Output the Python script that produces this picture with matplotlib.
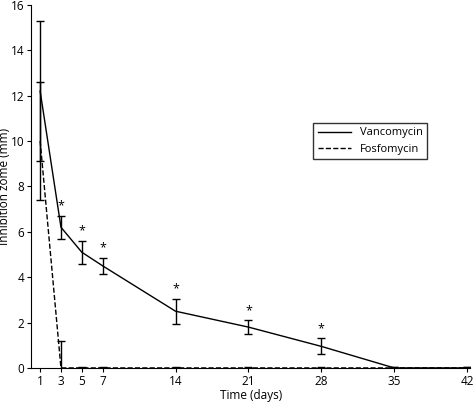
import matplotlib
matplotlib.use('Agg')
import matplotlib.pyplot as plt
from matplotlib.lines import Line2D

days = [1, 3, 5, 7, 14, 21, 28, 35, 42]
vanco = [12.2, 6.2, 5.1, 4.5, 2.5, 1.8, 0.95, 0.0, 0.0]
vanco_err = [3.1, 0.5, 0.5, 0.35, 0.55, 0.3, 0.35, 0.05, 0.05]
fosfo = [10.0, 0.0, 0.0, 0.0, 0.0, 0.0, 0.0, 0.0, 0.0]
fosfo_err = [2.6, 1.2, 0.05, 0.05, 0.05, 0.05, 0.05, 0.05, 0.05]
star_days = [3, 5, 7, 14, 21, 28]

plt.rcParams['font.family'] = ['Open Sans', 'DejaVu Sans']
fig = plt.figure(figsize=(4.74, 4.07), dpi=100)
ax = fig.add_axes([0.066, 0.096, 0.926, 0.892])

ax.errorbar(days, vanco, yerr=vanco_err, color='black', lw=1, capsize=3, elinewidth=1)
ax.errorbar(days, fosfo, yerr=fosfo_err, color='black', lw=1, ls='--', capsize=3, elinewidth=1)

for d in star_days:
    i = days.index(d)
    ax.text(d, vanco[i] + vanco_err[i] + 0.15, '*', ha='center', va='bottom', fontsize=9)

ax.set_xlim(0.15, 42.3)
ax.set_ylim(0, 16)
ax.set_xticks(days)
ax.set_yticks(range(0, 17, 2))
ax.tick_params(labelsize=8.5, direction='out', length=3, pad=2)
ax.set_xlabel('Time (days)', fontsize=8.5, labelpad=1)
ax.set_ylabel('Inhibition zome (mm)', fontsize=8.5, labelpad=0)
for s in ['top', 'right']:
    ax.spines[s].set_visible(False)

handles = [Line2D([], [], color='black', lw=1),
           Line2D([], [], color='black', lw=1, ls='--')]
ax.legend(handles, ['Vancomycin', 'Fosfomycin'], loc='upper left', bbox_to_anchor=(0.63, 0.69),
          fontsize=8, frameon=True, fancybox=False, edgecolor='black', handlelength=3)

fig.savefig('out.png', dpi=100)
